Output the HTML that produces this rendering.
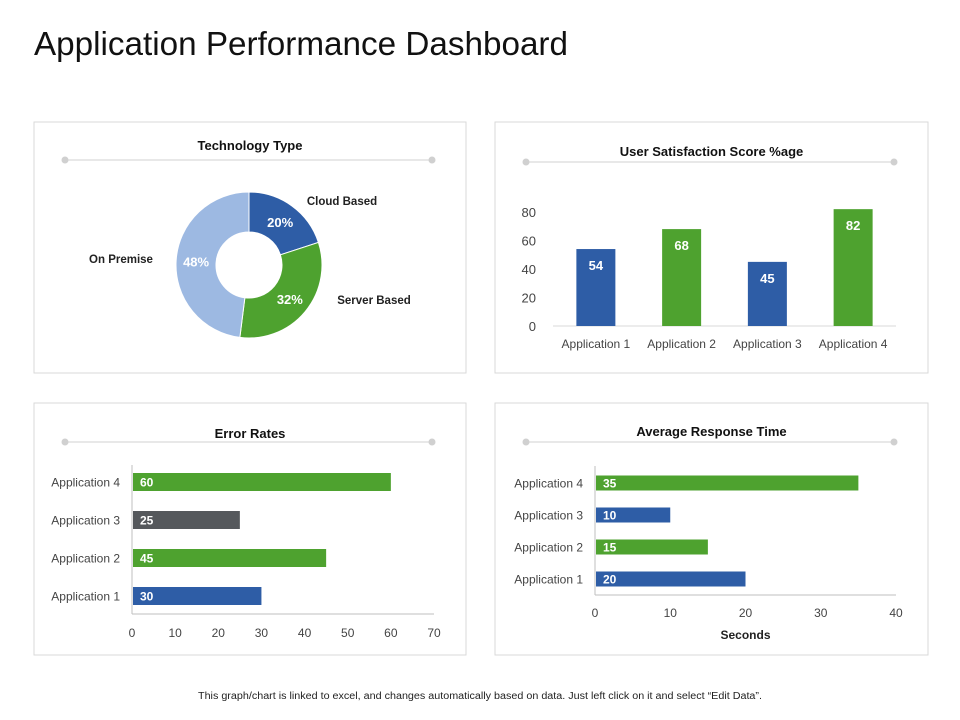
<!DOCTYPE html>
<html><head><meta charset="utf-8"><style>
body{margin:0;background:#fff;}
svg{display:block;font-family:"Liberation Sans",Arial,sans-serif;}
</style></head><body>
<svg id="s" width="960" height="720" viewBox="0 0 960 720">
<text x="34" y="55" font-size="33" fill="#111" textLength="534" lengthAdjust="spacingAndGlyphs">Application Performance Dashboard</text>
<g id="panels"></g>
<text x="198" y="699" font-size="10" fill="#222" textLength="564" lengthAdjust="spacingAndGlyphs">This graph/chart is linked to excel, and changes automatically based on data. Just left click on it and select “Edit Data”.</text>
</svg>
<script>
// Donut data
const donutLabels=["Cloud Based","Server Based","On Premise"];
const donutValues=[20,32,48];
// User satisfaction
const satCats=["Application 1","Application 2","Application 3","Application 4"];
const satValues=[54,68,45,82];
const satTicks=[0,20,40,60,80];
// Error rates
const errCats=["Application 1","Application 2","Application 3","Application 4"];
const errValues=[30,45,25,60];
const errTicks=[0,10,20,30,40,50,60,70];
// Response time
const rtCats=["Application 1","Application 2","Application 3","Application 4"];
const rtValues=[20,15,10,35];
const rtTicks=[0,10,20,30,40];

const NS="http://www.w3.org/2000/svg";
const root=document.getElementById('panels');
const BLUE="#2e5da6",GREEN="#4ea22f",LBLUE="#9db9e2",GREY="#55585c";
function mk(tag,attrs,parent,txt){const e=document.createElementNS(NS,tag);for(const k in attrs)e.setAttribute(k,attrs[k]);if(txt!==undefined)e.textContent=txt;(parent||root).appendChild(e);return e;}

function panel(x,y,w,h,name,title,ty,ly){
  const r=mk('rect',{x:x,y:y,width:w,height:h,fill:'#fff',stroke:'#d9d9d9','stroke-width':1});
  
  
  const t=mk('text',{x:x+w/2,y:ty,'font-size':13,'font-weight':'bold','text-anchor':'middle',fill:'#111'},root,title);
  
  
  const l=mk('line',{x1:x+31,x2:x+w-34,y1:ly,y2:ly,stroke:'#d0d0d0','stroke-width':1});
  
  
  mk('circle',{cx:x+31,cy:ly,r:3.5,fill:'#d0d0d0'});
  mk('circle',{cx:x+w-34,cy:ly,r:3.5,fill:'#d0d0d0'});
}
panel(34,122,432,251,'technology-type-panel','Technology Type',150,160);
panel(495,122,433,251,'user-satisfaction-panel','User Satisfaction Score %age',156,162);
panel(34,403,432,252,'error-rates-panel','Error Rates',438,442);
panel(495,403,433,252,'response-time-panel','Average Response Time',436,442);

// Donut
(function(){
  const cx=249,cy=265,R=73,r=33;
  const cols=[BLUE,GREEN,LBLUE];
  const labPos=[[342,205,'middle'],[374,304,'middle'],[121,263,'middle']];
  const total=donutValues.reduce((a,b)=>a+b,0);
  let a0=0;
  donutValues.forEach((v,i)=>{
    const a1=a0+v/total*2*Math.PI;
    const p=(a,rr)=>[cx+rr*Math.sin(a),cy-rr*Math.cos(a)];
    const large=(a1-a0)>Math.PI?1:0;
    const [x0,y0]=p(a0,R),[x1,y1]=p(a1,R),[x2,y2]=p(a1,r),[x3,y3]=p(a0,r);
    const s=mk('path',{d:`M${x0},${y0}A${R},${R} 0 ${large} 1 ${x1},${y1}L${x2},${y2}A${r},${r} 0 ${large} 0 ${x3},${y3}Z`,fill:cols[i],stroke:'#fff','stroke-width':1});
    
    
    const am=(a0+a1)/2,[lx,ly]=p(am,(R+r)/2);
    const t=mk('text',{x:lx,y:ly+5,'font-size':13,'font-weight':'bold',fill:'#fff','text-anchor':'middle'},root,Math.round(v/total*100)+'%');
    
    
    const c=mk('text',{x:labPos[i][0],y:labPos[i][1],'font-size':11.5,'font-weight':'bold',fill:'#222','text-anchor':labPos[i][2]},root,donutLabels[i]);
    
    
    a0=a1;
  });
})();

// Vertical bar chart
(function(){
  const x0=553,x1=896,yB=326,yT=212,max=80;
  const ys=v=>yB-(v/max)*(yT-yB)*-1;
  const bw=(x1-x0)/satCats.length;
  mk('line',{x1:x0,x2:x1,y1:yB,y2:yB,stroke:'#d9d9d9'});
  satTicks.forEach(t=>{const e=mk('text',{x:536,y:ys(t)+5,'font-size':13,fill:'#444','text-anchor':'end'},root,t);
    });
  satCats.forEach((c,i)=>{
    const cx=x0+bw*(i+0.5),v=satValues[i];
    const b=mk('rect',{x:cx-19.5,y:ys(v),width:39,height:yB-ys(v),fill:i%2?GREEN:BLUE});
    
    
    const t=mk('text',{x:cx,y:ys(v)+21,'font-size':13,'font-weight':'bold',fill:'#fff','text-anchor':'middle'},root,v);
    
    const l=mk('text',{x:cx,y:348,'font-size':12,fill:'#444','text-anchor':'middle'},root,c);
    
  });
})();

// Horizontal bars
function hbar(cats,vals,ticks,x0,x1,yc,bh,colors,axTop,axY,tickY,label){
  const max=ticks[ticks.length-1];
  const xs=v=>x0+v/max*(x1-x0);
  mk('line',{x1:x0,x2:x0,y1:axTop,y2:axY,stroke:'#bfbfbf'});
  mk('line',{x1:x0,x2:x1,y1:axY,y2:axY,stroke:'#bfbfbf'});
  ticks.forEach(t=>{const e=mk('text',{x:xs(t),y:tickY,'font-size':12,fill:'#444','text-anchor':'middle'},root,t);
    });
  cats.forEach((c,i)=>{
    const y=yc[i],v=vals[i];
    const b=mk('rect',{x:x0+1,y:y-bh/2,width:xs(v)-x0-1,height:bh,fill:colors[i]});
    
    
    const t=mk('text',{x:x0+8,y:y+4.5,'font-size':12,'font-weight':'bold',fill:'#fff'},root,v);
    
    const l=mk('text',{x:x0-12,y:y+4.5,'font-size':12,fill:'#444','text-anchor':'end'},root,c);
    
  });
  if(label){const e=mk('text',{x:(x0+x1)/2,y:639,'font-size':12,'font-weight':'bold',fill:'#222','text-anchor':'middle'},root,label);
    }
}
hbar(errCats,errValues,errTicks,132,434,[596,558,520,482],18,[BLUE,GREEN,GREY,GREEN],465,614,637,null);
hbar(rtCats,rtValues,rtTicks,595,896,[579,547,515,483],15,[BLUE,GREEN,BLUE,GREEN],466,595,617,'Seconds');
</script>
</body></html>
